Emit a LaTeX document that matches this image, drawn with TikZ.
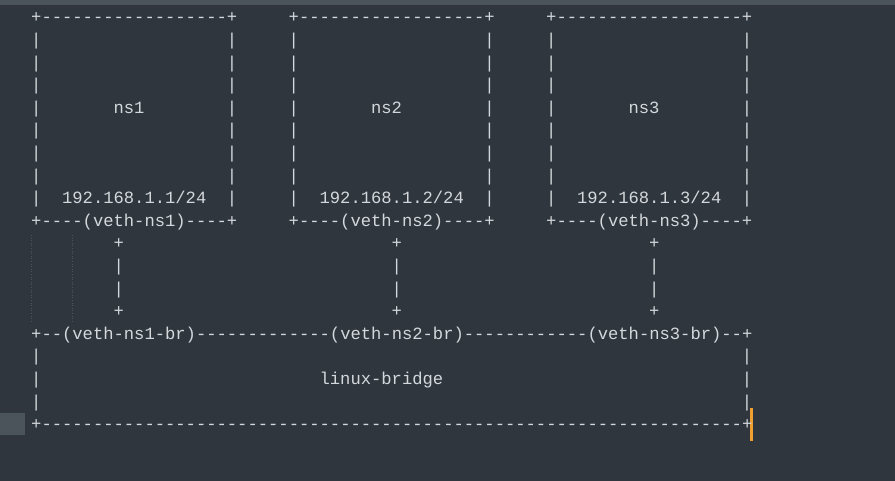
\documentclass[tikz,border=0pt]{standalone}
\usepackage{fontspec}
\setmonofont{Liberation Mono}
\definecolor{bg}{HTML}{2F363E}
\definecolor{fg}{HTML}{D4D8DC}
\definecolor{strip}{HTML}{4B535B}
\definecolor{cursor}{HTML}{F0A030}
\newcommand\asc[4]{\node[ascii] (#1) at ({31+(#3)*10.3pt},{-(23+22.6*#2)*1pt}) {#4};}
\newcommand\dashes[1]{\foreach \i in {1,...,#1}{-}}
\begin{document}
\begin{tikzpicture}[x=1pt,y=1pt,
  ascii/.style={anchor=base west,inner sep=0pt,text=fg,font=\ttfamily\fontsize{17.17}{20}\selectfont}]
\useasboundingbox (0,0) rectangle (895,-481);
\fill[bg] (0,0) rectangle (895,-481);
\fill[strip] (0,0) rectangle (895,-5);
\fill[strip] (0,-413) rectangle (25,-435);
\fill[cursor] (750,-408) rectangle (753,-441);
\draw[strip,dotted,line width=0.6] (31,-235) -- (31,-322) (72,-235) -- (72,-322);
% boxes
\foreach \b/\n in {0/1,25/2,50/3}{
  \asc{top\n}{0}{\b}{+\dashes{18}+}
  \foreach \r in {1,2,3,4,5,6,7,8}{
    \asc{l\n\r}{\r}{\b}{|}
    \asc{r\n\r}{\r}{\b+19}{|}
  }
  \asc{ns\n}{4}{\b+8}{ns\n}
  \asc{ip\n}{8}{\b+3}{192.168.1.\n/24}
  \asc{bot\n}{9}{\b}{+\dashes{4}(veth-ns\n)\dashes{4}+}
}
% connectors
\foreach \c/\n in {8/1,35/2,60/3}{
  \asc{ca\n}{10}{\c}{+}
  \asc{cb\n}{11}{\c}{|}
  \asc{cc\n}{12}{\c}{|}
  \asc{cd\n}{13}{\c}{+}
}
% bridge
\asc{brtop}{14}{0}{+\dashes{2}(veth-ns1-br)\dashes{13}(veth-ns2-br)\dashes{12}(veth-ns3-br)\dashes{2}+}
\foreach \r in {15,16,17}{
  \asc{bl\r}{\r}{0}{|}
  \asc{br\r}{\r}{69}{|}
}
\asc{lb}{16}{28}{linux-bridge}
\asc{brbot}{18}{0}{+\dashes{68}+}
\end{tikzpicture}
\end{document}
